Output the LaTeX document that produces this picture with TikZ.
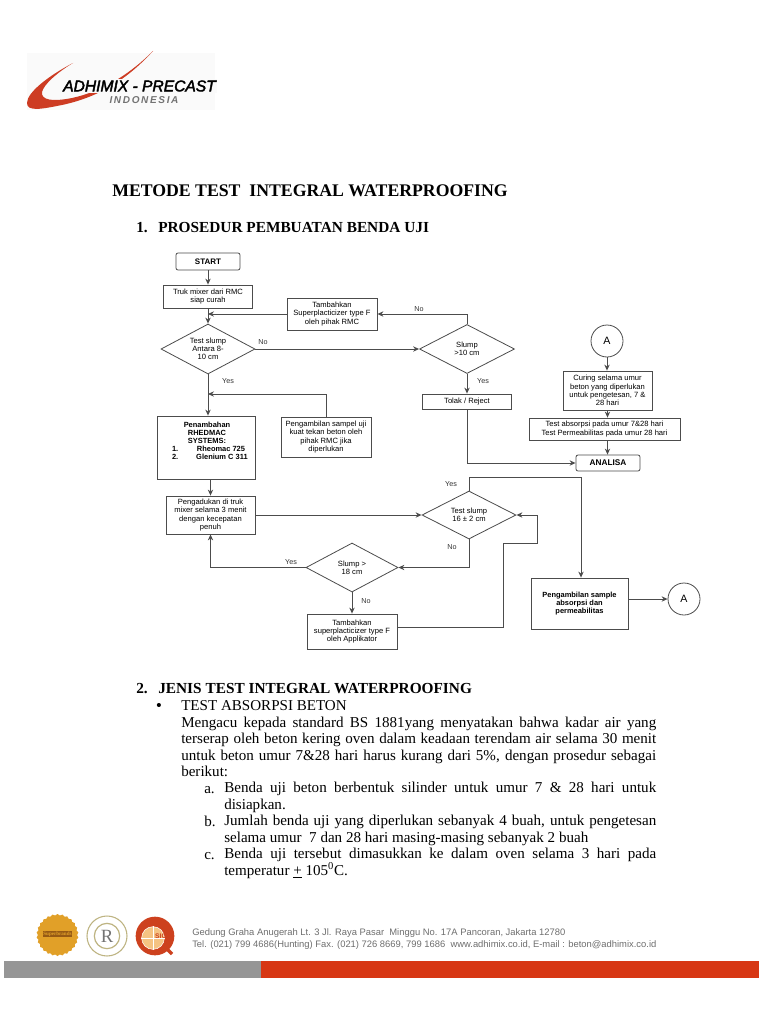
\documentclass[tikz,border=0pt]{standalone}
\usepackage{fontspec}
\setmainfont{Liberation Serif}
\newfontfamily\arialf{Liberation Sans}
\newfontfamily\logof[FakeBold=2.5]{Liberation Sans}
\usetikzlibrary{arrows.meta,shapes.geometric}
\definecolor{linegray}{gray}{0.3}
\definecolor{logored}{RGB}{205,60,35}
\definecolor{barred}{RGB}{215,55,20}
\definecolor{bargray}{RGB}{150,150,150}
\definecolor{footgray}{RGB}{110,110,110}
\definecolor{sealgold}{RGB}{225,160,40}
\definecolor{sealdark}{RGB}{150,90,20}
\definecolor{sealred}{RGB}{205,65,30}
\definecolor{sealpale}{RGB}{245,195,130}
\definecolor{sealtan}{RGB}{190,180,130}
\tikzset{
  wh/.style 2 args={minimum width=#1*0.75pt,minimum height=#2*0.75pt},
  fc/.style={draw=linegray,line width=0.6pt,fill=white,inner sep=0pt,align=center,font=\arialf\fontsize{5.7}{6.2}\selectfont},
  rbox/.style={fc,rectangle,rounded corners=1.5pt},
  dia/.style={fc,diamond,aspect=1.9},
  circ/.style={fc,circle,minimum size=24pt,font=\arialf\fontsize{8}{9}\selectfont},
  lab/.style={font=\arialf\fontsize{5.4}{6.5}\selectfont,text=black!80,inner sep=0pt},
  conn/.style={draw=linegray,line width=0.7pt,-{Stealth[length=4.5pt,width=4pt]}},
  head/.style={anchor=base west,inner sep=0pt,font=\bfseries\fontsize{11.5}{14}\selectfont},
  body/.style={anchor=north west,inner sep=0pt,align=justify,font=\fontsize{11.3}{12.4}\selectfont},
  bodyl/.style={anchor=base west,inner sep=0pt,font=\fontsize{11.3}{14}\selectfont},
  foot/.style={anchor=base west,inner sep=0pt,text=footgray,font=\arialf\fontsize{7.05}{9}\selectfont}
}
\begin{document}
\begin{tikzpicture}[x=0.75pt,y=-0.75pt]
\useasboundingbox[fill=white] (0,0) rectangle (768,1024);

% logo
\fill[black!2] (27,53) rectangle (215,110);
\fill[logored] (73,63) .. controls (50,75) and (27,92) .. (27,103)
  .. controls (27,112) and (42,109) .. (62,105)
  .. controls (95,98) and (125,82) .. (153,51)
  .. controls (128,76) and (100,92) .. (72,98)
  .. controls (52,102) and (41,100) .. (42,92)
  .. controls (44,84) and (58,72) .. (73,63) -- cycle;
\node[anchor=center,inner sep=1pt,fill=black!2,font=\logof\itshape\fontsize{11.7}{14}\selectfont] (logoa) at (139.5,86) {ADHIMIX - PRECAST};
\node[anchor=center,inner sep=0pt,text=black!55,font=\arialf\bfseries\itshape\fontsize{7.5}{9}\selectfont] (logob) at (144,100) {I\,N\,D\,O\,N\,E\,S\,I\,A};

% headings
\node[head,font=\bfseries\fontsize{13.3}{15}\selectfont] (title) at (112,196) {METODE TEST \ INTEGRAL WATERPROOFING};
\node[head] (h1n) at (136,232) {1.};
\node[head] (h1) at (158,232) {PROSEDUR PEMBUATAN BENDA UJI};

% flowchart nodes
\node[rbox,wh={64}{17},font=\arialf\bfseries\fontsize{6}{7}\selectfont] (start) at (208,261.5) {START};
\node[fc,wh={89}{23}] (truk) at (208,296.5) {Truk mixer dari RMC\\siap curah};
\node[fc,wh={90}{32}] (tamb1) at (332,314) {Tambahkan\\Superplacticizer type F\\oleh pihak RMC};
\node[dia,wh={94}{50}] (d1) at (208,349) {Test slump\\Antara 8-\\10 cm};
\node[dia,wh={95}{49}] (d2) at (467,349) {Slump\\>10 cm};
\node[fc,wh={89}{15}] (tolak) at (467,401.5) {Tolak / Reject};
\node[fc,wh={98}{63}] (pen) at (206,447.5) {};
\node[inner sep=0pt,align=center,font=\arialf\bfseries\fontsize{5.6}{6}\selectfont] (pentext) at (207,440.5) {Penambahan\\RHEDMAC\\SYSTEMS:\\\makebox[52.5pt][l]{1.\hspace{14pt}Rheomac 725}\\\makebox[52.5pt][l]{2.\hspace{13.5pt}Glenium C 311}};
\node[fc,wh={90}{40}] (samp) at (326,437) {Pengambilan sampel uji\\kuat tekan beton oleh\\pihak RMC jika\\diperlukan};
\node[circ] (a1) at (607,341) {A};
\node[fc,wh={89}{39}] (curing) at (607.5,390.5) {Curing selama umur\\beton yang diperlukan\\untuk pengetesan, 7 \&\\28 hari};
\node[fc,wh={151}{22}] (test) at (604.5,429) {Test absorpsi pada umur 7\&28 hari\\Test Permeabilitas pada umur 28 hari};
\node[rbox,wh={64}{16},font=\arialf\bfseries\fontsize{6.2}{7}\selectfont] (analisa) at (608,463) {ANALISA};
\node[fc,wh={89}{38}] (aduk) at (210.5,515) {Pengadukan di truk\\mixer selama 3 menit\\dengan kecepatan\\penuh};
\node[dia,wh={94}{48}] (d3) at (469,515) {Test slump\\16 ± 2 cm};
\node[dia,wh={92}{49}] (d4) at (352,567.5) {Slump >\\18 cm};
\node[fc,wh={90}{35}] (tamb2) at (352,631.5) {Tambahkan\\superplacticizer type F\\oleh Applikator};
\node[fc,wh={97}{51},font=\arialf\bfseries\fontsize{5.6}{6.2}\selectfont] (psamp) at (579.5,603.5) {Pengambilan sample\\absorpsi dan\\permeabilitas};
\node[circ] (a2) at (684,599) {A};

% helper coordinates
\coordinate (j1) at (208,314);
\coordinate (j2) at (208,394);
\coordinate (c0) at (467,314);
\coordinate (yc) at (581,477);
\coordinate (c1) at (503,627);
\coordinate (c2) at (503,543);
\coordinate (c3) at (537,543);
\coordinate (c4) at (537,515);

% connectors
\draw[conn] (start) -- (truk);
\draw[conn] (truk) -- (d1);
\draw[conn] (tamb1) -- (j1);
\draw[conn] (d1) -- (d2);
\draw[conn] (d2.north) -- (c0) -- (tamb1);
\draw[conn] (d1) -- (d1.south |- pen.north);
\draw[conn] (samp.north) |- (j2);
\draw[conn] (d2) -- (tolak);
\draw[conn] (tolak) |- (analisa);
\draw[conn] (a1) -- (a1 |- curing.north);
\draw[conn] (curing.south) -- (curing.south |- test.north);
\draw[conn] (curing.south |- test.south) -- (curing.south |- analisa.north);
\draw[conn] (aduk.north |- pen.south) -- (aduk.north);
\draw[conn] (aduk) -- (d3);
\draw[conn] (d3.north) |- (yc) -- (yc |- psamp.north);
\draw[conn] (d3.south) |- (d4.east);
\draw[conn] (d4.west) -| (aduk.south);
\draw[conn] (d4) -- (tamb2);
\draw[conn] (c1 -| tamb2.east) -- (c1) -- (c2) -- (c3) -- (c4) -- (d3.east);
\draw[conn] (psamp.east |- a2) -- (a2);

% connector labels
\node[lab] (lno1) at (263,342) {No};
\node[lab] (lyes1) at (228,381) {Yes};
\node[lab] (lno2) at (419,309) {No};
\node[lab] (lyes2) at (483,381) {Yes};
\node[lab] (lyes3) at (451,484) {Yes};
\node[lab] (lno3) at (452,547) {No};
\node[lab] (lyes4) at (291,562) {Yes};
\node[lab] (lno4) at (366,601) {No};

% text below chart
\node[head] (h2n) at (136,693) {2.};
\node[head] (h2) at (158,693) {JENIS TEST INTEGRAL WATERPROOFING};
\node[bodyl] (bul) at (156,710) {\arialf\textbullet};
\node[bodyl] (tab) at (181,710) {TEST ABSORPSI BETON};
\node[body,text width=356.25pt] (para) at (181,716.5) {Mengacu kepada standard BS 1881yang menyatakan bahwa kadar air yang\linebreak terserap oleh beton kering oven dalam keadaan terendam air selama 30 menit\linebreak untuk beton umur 7\&28 hari harus kurang dari 5\%, dengan prosedur sebagai\linebreak berikut:};
\node[bodyl] (la) at (204,793) {a.};
\node[body,text width=324pt] (pa) at (224,782) {Benda uji beton berbentuk silinder untuk umur 7 \& 28 hari untuk\linebreak disiapkan.};
\node[bodyl] (lb) at (204,826) {b.};
\node[body,text width=324pt] (pb) at (224,815) {Jumlah benda uji yang diperlukan sebanyak 4 buah, untuk pengetesan\linebreak selama umur \ 7 dan 28 hari masing-masing sebanyak 2 buah};
\node[bodyl] (lc) at (204,859) {c.};
\node[body,text width=324pt] (pc) at (224,848) {Benda uji tersebut dimasukkan ke dalam oven selama 3 hari pada\linebreak temperatur \underline{+} 105\textsuperscript{0}C.};

% seals
\node[star,star points=26,star point ratio=1.07,fill=sealgold,inner sep=0pt,minimum size=31.5pt] (seal1) at (57.5,935) {};
\node[fill=sealdark,text=sealgold,inner sep=0.6pt,font=\bfseries\fontsize{3.8}{4}\selectfont] (seal1t) at (57.5,934) {Superbrands};
\node[circle,draw=sealtan,line width=0.8pt,fill=white,minimum size=30pt,inner sep=0pt] (seal2) at (107,936) {};
\node[circle,draw=sealtan,line width=0.9pt,minimum size=19pt,inner sep=0pt,text=black!55,font=\fontsize{14}{14}\selectfont] (seal2i) at (107,936) {R};
\draw[sealred,line width=2.5pt] (163,945) -- (172,954);
\node[circle,fill=sealred,minimum size=29pt,inner sep=0pt] (seal3) at (155,936) {};
\node[circle,fill=sealpale,draw=white,line width=0.4pt,minimum size=17pt,inner sep=0pt] (seal3i) at (153,938) {};
\draw[white,line width=0.5pt] (seal3i.north) -- (seal3i.south) (seal3i.west) -- (seal3i.east);
\node[text=sealred,inner sep=0pt,font=\arialf\bfseries\fontsize{5}{5}\selectfont] (seal3t) at (163,936) {SICS};

% footer
\node[foot] (f1) at (192,935) {Gedung Graha Anugerah Lt. 3 Jl. Raya Pasar \ Minggu No. 17A Pancoran, Jakarta 12780};
\node[foot] (f2) at (192,947) {Tel. (021) 799 4686(Hunting) Fax. (021) 726 8669, 799 1686 \ www.adhimix.co.id, E-mail : beton@adhimix.co.id};
\fill[bargray] (4,961) rectangle (261,978);
\fill[barred] (261,961) rectangle (759,978);
\end{tikzpicture}
\end{document}
